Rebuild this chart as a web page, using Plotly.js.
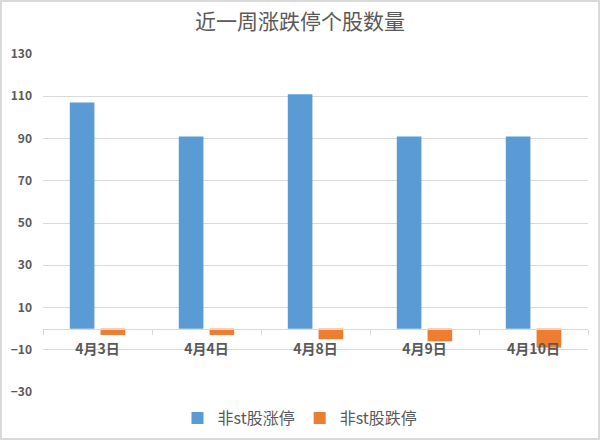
<!DOCTYPE html>
<html>
<head>
<meta charset="utf-8">
<script src="https://cdn.plot.ly/plotly-3.0.1.min.js"></script>
<style>
  html, body { margin: 0; padding: 0; background: #fff; }
  #wrap { position: relative; width: 600px; height: 440px; }
  #chart { width: 600px; height: 440px; }
  #frame { position: absolute; left: 0; top: 0; width: 600px; height: 440px; box-sizing: border-box; border: 2px solid #d9d9d9; pointer-events: none; }
</style>
</head>
<body>
<div id="wrap"><div id="chart"></div><div id="frame"></div></div>
<script>
const dates = ['4月3日', '4月4日', '4月8日', '4月9日', '4月10日'];
const limitUp = [107, 91, 111, 91, 91];
const limitDown = [-3, -3, -5, -6, -9];
const seriesNames = ['非st股涨停', '非st股跌停'];
const chartTitle = '近一周涨跌停个股数量';

const FONT = '"Noto Sans CJK SC", "Noto Sans", sans-serif';
const yMin = -30, yMax = 130;

const traces = [
  { type: 'bar', x: dates, y: limitUp, name: seriesNames[0], marker: { color: '#5b9bd5' } },
  { type: 'bar', x: dates, y: limitDown, name: seriesNames[1], marker: { color: '#ed7d31' } }
];

const layout = {
  width: 600, height: 440,
  margin: { l: 43, r: 12, t: 54, b: 48 },
  paper_bgcolor: '#fff', plot_bgcolor: '#fff',
  barmode: 'group', bargap: 0.435, bargroupgap: 0.2,
  title: {
    text: chartTitle, x: 0.5, xref: 'container', xanchor: 'center',
    y: 1 - 22 / 440, yref: 'container', yanchor: 'middle',
    font: { family: FONT, size: 21, color: '#595959' }
  },
  font: { family: FONT, color: '#595959' },
  xaxis: {
    type: 'category', anchor: 'free', position: (0 - yMin) / (yMax - yMin),
    showline: true, linecolor: '#d9d9d9', linewidth: 1,
    ticks: 'outside', tickson: 'boundaries', ticklen: 5, tickcolor: '#d9d9d9',
    showgrid: false, ticklabelstandoff: 8,
    tickfont: { family: FONT, size: 14, color: '#595959', weight: 'bold' }
  },
  yaxis: {
    range: [yMin, yMax], tick0: 10, dtick: 20,
    showgrid: true, gridcolor: '#d9d9d9', gridwidth: 1,
    zeroline: false, showline: false, ticks: '',
    ticklabelstandoff: 10,
    tickfont: { family: FONT, size: 12, color: '#595959', weight: 'bold' }
  },
  legend: {
    orientation: 'h', x: 0.5, xanchor: 'center', xref: 'container',
    y: 1 - 418 / 440, yref: 'container', yanchor: 'middle',
    font: { family: FONT, size: 16, color: '#595959' },
    itemwidth: 30
  },
  showlegend: true
};

Plotly.newPlot('chart', traces, layout, { displayModeBar: false, staticPlot: true });
</script>
</body>
</html>
